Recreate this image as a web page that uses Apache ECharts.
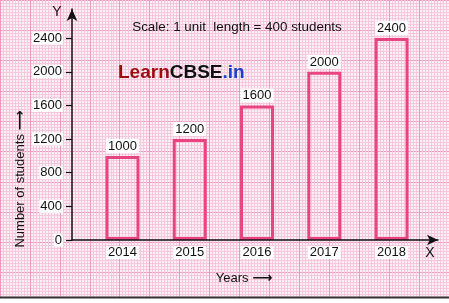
<!DOCTYPE html>
<html>
<head>
<meta charset="utf-8">
<script src="https://cdn.jsdelivr.net/npm/echarts@6/dist/echarts.min.js"></script>
<style>html,body{margin:0;padding:0;background:#fff}#c{width:449px;height:303px}</style>
</head>
<body>
<div id="c"></div>
<script>
const years = [2014, 2015, 2016, 2017, 2018];
const students = [1000, 1200, 1600, 2000, 2400];
const yTicks = [0, 400, 800, 1200, 1600, 2000, 2400];
const scaleText = 'Scale: 1 unit  length = 400 students';
const yTitle = 'Number of students';
const xTitle = 'Years';
const arrowGlyph = '\u27F6';

const FONT = '"Liberation Sans", Arial, Helvetica, sans-serif';
const PINK = '#e9447f';
const chart = echarts.init(document.getElementById('c'), null, {renderer: 'canvas'});

function titleText(x, y, text, extra) {
  return Object.assign({type: 'text', x: x, y: y, z: 10, style: {
    text: '{t|' + text + ' }{a|' + arrowGlyph + '}',
    align: 'center', verticalAlign: 'middle',
    rich: {
      t: {fontSize: 13, fontFamily: FONT, fill: '#111'},
      a: {fontSize: 14, fontWeight: 'bold', fontFamily: 'DejaVu Sans', fill: '#111'}
    }}}, extra || {});
}
function txt(x, y, text, size, extra) {
  return Object.assign({type: 'text', x: x, y: y, z: 10, style: {
    text: text, fontSize: size, fontFamily: FONT, fill: '#111',
    align: 'center', verticalAlign: 'middle'}}, extra || {});
}

const option = {
  backgroundColor: '#fcf0f6',
  animation: false,
  textStyle: {fontFamily: FONT},
  grid: [
    {left: 72, top: 9, width: 366, height: 231, containLabel: false},
    {left: -28.95, top: -31.9, width: 504.75, height: 343, containLabel: false}
  ],
  xAxis: [
    {
      type: 'value', gridIndex: 0, min: 2013.25, max: 2018.69,
      axisLine: {show: true, lineStyle: {color: '#111', width: 1.5}, symbol: ['none', 'arrow'], symbolSize: [8, 11]},
      axisTick: {show: false},
      splitLine: {show: false},
      axisLabel: {customValues: years, formatter: v => String(v), color: '#111', fontSize: 13, fontFamily: FONT, margin: 6,
        backgroundColor: '#fff', padding: [0, 2, 0, 2]},
      z: 5
    },
    {
      type: 'value', gridIndex: 1, min: 0, max: 15, interval: 1,
      axisLine: {show: false}, axisTick: {show: false}, axisLabel: {show: false},
      splitLine: {show: true, lineStyle: {color: '#ee9ac2', width: 1}},
      minorTick: {show: false, splitNumber: 10},
      minorSplitLine: {show: true, lineStyle: {color: '#f5c8dc', width: 1}},
      z: 0
    }
  ],
  yAxis: [
    {
      type: 'value', gridIndex: 0, min: 0, max: 2746,
      axisLine: {show: true, lineStyle: {color: '#111', width: 1.5}, symbol: ['none', 'arrow'], symbolSize: [8, 12]},
      axisTick: {show: true, customValues: yTicks, length: 6, lineStyle: {color: '#111', width: 1.2}},
      splitLine: {show: false},
      axisLabel: {customValues: yTicks, formatter: v => String(v), color: '#111', fontSize: 13, fontFamily: FONT, margin: 9,
        backgroundColor: '#fff', padding: [0, 1, 0, 1]},
      z: 5
    },
    {
      type: 'value', gridIndex: 1, min: 0, max: 10, interval: 1,
      axisLine: {show: false}, axisTick: {show: false}, axisLabel: {show: false},
      splitLine: {show: true, lineStyle: {color: '#ee9ac2', width: 1}},
      minorTick: {show: false, splitNumber: 10},
      minorSplitLine: {show: true, lineStyle: {color: '#f5c8dc', width: 1}},
      z: 0
    }
  ],
  series: [
    {
      type: 'bar', xAxisIndex: 0, yAxisIndex: 0,
      data: years.map((y, i) => [y, students[i]]),
      barWidth: 34,
      itemStyle: {color: 'rgba(255,255,255,0)', borderColor: PINK, borderWidth: 3},
      label: {show: true, position: 'top', distance: 3, color: '#111', fontSize: 13, fontFamily: FONT,
        backgroundColor: '#fff', padding: [1, 2, 0, 2], formatter: p => String(p.value[1])},
      z: 3
    }
  ],
  graphic: [
    {type: 'rect', left: 0, top: 298, shape: {width: 449, height: 5}, style: {fill: '#fff'}, z: 10},
    {type: 'line', shape: {x1: 0, y1: 297.5, x2: 449, y2: 297.5}, style: {stroke: '#333', lineWidth: 2}, z: 10},
    txt(237, 27, scaleText, 13.4),
    txt(57, 12, 'Y', 14),
    txt(430, 253, 'X', 14),
    titleText(244, 278, xTitle),
    titleText(20, 179, yTitle, {rotation: Math.PI / 2}),
    {type: 'text', x: 118, y: 73, z: 10, style: {
      text: '{a|Learn}{b|CBSE}{c|.in}', verticalAlign: 'middle', align: 'left',
      rich: {
        a: {fontSize: 19, fontWeight: 'bold', fontFamily: FONT, fill: '#9c0c10'},
        b: {fontSize: 19, fontWeight: 'bold', fontFamily: FONT, fill: '#111'},
        c: {fontSize: 19, fontWeight: 'bold', fontFamily: FONT, fill: '#1c3fcf'}
      }}}
  ]
};
chart.setOption(option);
</script>
</body>
</html>
